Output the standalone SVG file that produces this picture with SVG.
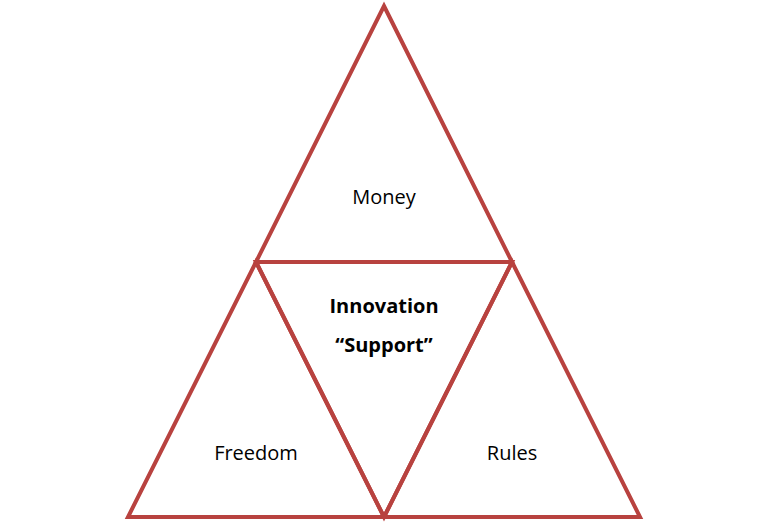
<svg xmlns="http://www.w3.org/2000/svg" width="768" height="528" viewBox="0 0 768 528">
<style>
.tri{fill:none;stroke:#b8423f;stroke-width:4;stroke-linejoin:miter}
.lbl{font-family:"Open Sans","Liberation Sans",sans-serif;font-size:20px;fill:#000;text-anchor:middle}
.b{font-weight:bold}
</style>
<rect width="768" height="528" fill="#fff"/>
<g id="money"><polygon class="tri" points="384,6 512,262 256,262"/><text class="lbl" x="384" y="204">Money</text></g>
<g id="freedom"><polygon class="tri" points="256,262 384,517 128,517"/><text class="lbl" x="256" y="460">Freedom</text></g>
<g id="rules"><polygon class="tri" points="512,262 640,517 384,517"/><text class="lbl" x="512" y="460">Rules</text></g>
<g id="support"><polygon class="tri" points="256,262 512,262 384,517"/><text class="lbl b" x="384" y="313">Innovation</text><text class="lbl b" x="384" y="352">“Support”</text></g>
<g id="connectors"></g>
</svg>
